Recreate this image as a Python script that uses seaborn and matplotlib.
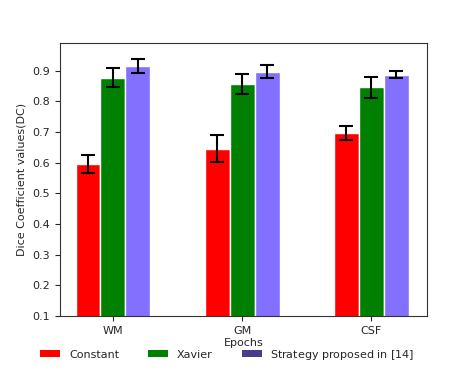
import matplotlib
matplotlib.use("Agg")
import matplotlib.pyplot as plt
from matplotlib.patches import Patch
import seaborn as sns
import pandas as pd
import numpy as np

tissues = ["WM", "GM", "CSF"]
methods = ["Constant", "Xavier", r"Strategy proposed in $[\mathit{14}]$"]
constant = [0.595, 0.646, 0.696]
xavier = [0.876, 0.856, 0.845]
proposed = [0.915, 0.896, 0.887]
constant_err = [0.030, 0.043, 0.022]
xavier_err = [0.031, 0.033, 0.033]
proposed_err = [0.024, 0.021, 0.011]

bar_colors = ["#ff0000", "#008000", "#8470ff"]
legend_colors = ["#ff0000", "#008000", "#483d8b"]

rows = []
for m, vals, errs in zip(methods, [constant, xavier, proposed],
                         [constant_err, xavier_err, proposed_err]):
    for t, v, e in zip(tissues, vals, errs):
        rows.append({"Tissue": t, "Method": m, "DC": v, "err": e})
df = pd.DataFrame(rows)

sns.set_style("ticks")
plt.rcParams["font.family"] = ["DejaVu Sans"]
plt.rcParams["font.size"] = 8

fig = plt.figure(figsize=(4.74, 3.85), dpi=100)
ax = fig.add_axes([60 / 474, 1 - 316 / 385, (427 - 60) / 474, (316 - 43) / 385])

sns.barplot(data=df, x="Tissue", y="DC", hue="Method", hue_order=methods,
            order=tissues, palette=bar_colors, width=0.58, errorbar=None,
            edgecolor="white", linewidth=1, saturation=1, ax=ax, legend=False)

# error bars at bar centres
for container, m in zip(ax.containers, methods):
    sub = df[df["Method"] == m].set_index("Tissue").loc[tissues]
    xs = [p.get_x() + p.get_width() / 2 for p in container.patches]
    ax.errorbar(xs, sub["DC"].values, yerr=sub["err"].values, fmt="none",
                ecolor="black", elinewidth=1.5, capsize=5, capthick=1.5)

ax.set_ylim(0.1, 0.99)
ax.set_xlim(-0.41, 2.43)
ax.set_yticks(np.arange(0.1, 0.95, 0.1))
ax.set_yticklabels([f"{v:.1f}" for v in np.arange(0.1, 0.95, 0.1)])
ax.set_xlabel("Epochs", fontsize=8, labelpad=2)
ax.set_ylabel("Dice Coefficient values(DC)", fontsize=8)
ax.tick_params(labelsize=8)
for s in ax.spines.values():
    s.set_visible(True)
    s.set_color("#333333")

handles = [Patch(facecolor=c, edgecolor="none") for c in legend_colors]
fig.legend(handles, methods, loc="lower center", bbox_to_anchor=(0.48, 0.035),
           ncol=3, frameon=False, fontsize=8, columnspacing=2.6,
           handlelength=1.8, handleheight=0.5)

fig.savefig("out.png", dpi=100)
